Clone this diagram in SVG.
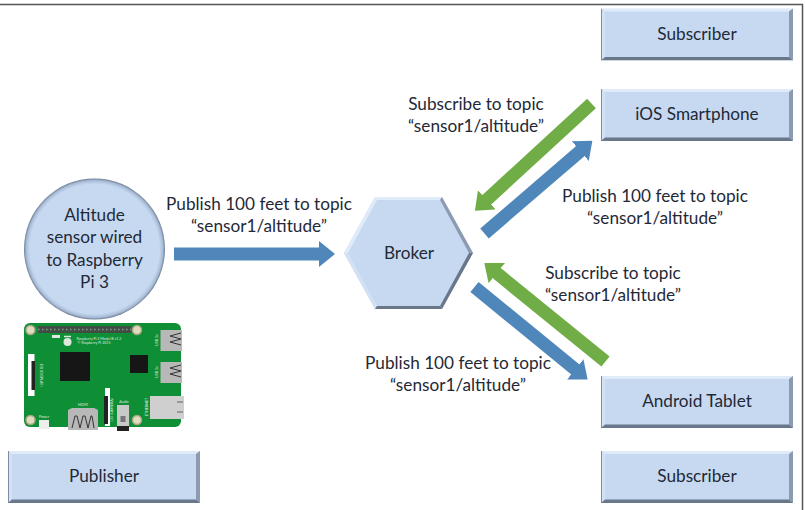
<svg xmlns="http://www.w3.org/2000/svg" width="805" height="510" viewBox="0 0 805 510">
<style>
text{font-family:"Lato","Open Sans","Liberation Sans",sans-serif;font-size:17.2px;fill:#1f2937;text-anchor:middle}
.sh{fill:none;stroke-width:13}
.blue{stroke:#4f87ba}.green{stroke:#70ad47}
.face{fill:#c6d9f1}.lt{fill:#e0ebfa}.lt2{fill:#d3e1f5}.ol{fill:#7f8ea3}.dk{fill:#8d9bb0}.dk2{fill:#69778b}
.pi text{font-size:3.6px;fill:#dfe8df}
.grey{fill:#b8b8b8}.hole{fill:#e0dcc0;stroke:#a8a684;stroke-width:1.500}
</style>
<defs>
<marker id="hb" markerUnits="userSpaceOnUse" markerWidth="16" markerHeight="26" refX="1" refY="13" orient="auto"><polygon points="0,0 16,13 0,26" fill="#4f87ba"/></marker>
<marker id="hg" markerUnits="userSpaceOnUse" markerWidth="16" markerHeight="26" refX="1" refY="13" orient="auto"><polygon points="0,0 16,13 0,26" fill="#70ad47"/></marker>
<radialGradient id="ball" cx="50%" cy="50%" r="50%"><stop offset="0.92" stop-color="#c6d9f1"/><stop offset="0.97" stop-color="#a9bcd6"/><stop offset="1" stop-color="#6f7f96"/></radialGradient>
<symbol id="box" width="192" height="52" viewBox="0 0 192 52">
<rect class="face" width="192" height="52"/>
<polygon class="lt" points="0,0 192,0 188,3 4,3"/>
<polygon class="lt2" points="0,0 4,3 4,48.500 0,52"/>
<rect class="ol" width="1" height="52"/>
<polygon class="dk" points="192,0 192,52 188,48.500 188,3"/>
<polygon class="dk2" points="0,52 4,48.500 188,48.500 192,52"/>
</symbol>
</defs>
<rect width="805" height="510" fill="#fff"/>
<path d="M0 4.500H802.500V510" fill="none" stroke="#555" stroke-width="1.500"/>
<g id="connectors">
<path class="sh blue" d="M174 254H320" marker-end="url(#hb)"/>
<path class="sh green" d="M591.500 103.500L486 200.500" marker-end="url(#hg)"/>
<path class="sh blue" d="M484.500 233.500L581 150.500" marker-end="url(#hb)"/>
<path class="sh green" d="M605.500 361.500L496 272.500" marker-end="url(#hg)"/>
<path class="sh blue" d="M474.500 287L576 370" marker-end="url(#hb)"/>
</g>
<g id="labels">
<text x="259" y="210">Publish 100 feet to topic</text><text x="259" y="232">“sensor1/altitude”</text>
<text x="476" y="110">Subscribe to topic</text><text x="476" y="132">“sensor1/altitude”</text>
<text x="655" y="202">Publish 100 feet to topic</text><text x="655" y="224">“sensor1/altitude”</text>
<text x="613" y="279">Subscribe to topic</text><text x="613" y="301">“sensor1/altitude”</text>
<text x="458" y="369">Publish 100 feet to topic</text><text x="458" y="391">“sensor1/altitude”</text>
</g>
<g id="sensor">
<circle cx="94.500" cy="249" r="70.500" fill="url(#ball)"/>
<text x="94.500" y="221">Altitude</text><text x="94.500" y="243">sensor wired</text><text x="94.500" y="266">to Raspberry</text><text x="94.500" y="288">Pi 3</text>
</g>
<g id="broker">
<polygon class="face" points="375,197 442,197 473,253 442,309 375,309 344,253"/>
<polygon class="lt" points="375,197 442,197 440,200 377,200"/>
<polygon class="lt" points="344,253 375,197 377,200 348,253"/>
<polygon class="lt2" points="344,253 348,253 377,306 375,309"/>
<polygon class="dk" points="442,197 473,253 469,253 440,200"/>
<polygon class="dk2" points="473,253 442,309 440,306 469,253"/>
<polygon class="dk2" points="375,309 377,306 440,306 442,309"/>
<text x="409" y="259">Broker</text>
</g>
<g id="subscriber-top"><use href="#box" x="601" y="8.500"/><text x="697" y="40">Subscriber</text></g>
<g id="ios"><use href="#box" x="601" y="89"/><text x="697" y="120">iOS Smartphone</text></g>
<g id="android"><use href="#box" x="601" y="376"/><text x="697" y="407">Android Tablet</text></g>
<g id="subscriber-bottom"><use href="#box" x="601" y="451"/><text x="697" y="482">Subscriber</text></g>
<g id="publisher"><use href="#box" x="8" y="451"/><text x="104" y="482">Publisher</text></g>
<g id="raspberry-pi" class="pi">
<rect x="24" y="323" width="157" height="104" rx="6" fill="#0f8f35"/>
<rect x="38" y="326" width="93" height="7" fill="#3f4d45"/>
<path d="M38 329.500H131" stroke="#8a9a8e" stroke-width="1.500" stroke-dasharray="1.500 2.500"/>
<g class="hole"><circle cx="30.500" cy="330" r="4.500"/><circle cx="137" cy="330" r="4.500"/><circle cx="30.500" cy="420" r="4.500"/><circle cx="137" cy="420" r="4.500"/></g>
<rect x="60" y="352" width="30" height="29" fill="#161616"/>
<rect x="130" y="355" width="18" height="18" fill="#161616"/>
<rect x="28" y="354" width="6.500" height="42" fill="#fff"/><rect x="31.500" y="361" width="3.500" height="29" fill="#222"/>
<rect x="105" y="388" width="5" height="38" fill="#fff"/><rect x="104" y="396" width="4" height="28" fill="#222"/>
<rect x="160.500" y="330" width="21.500" height="21" class="grey"/><rect x="160.500" y="362" width="21.500" height="21" class="grey"/>
<path d="M181 333l-11 3 11 3-11 3 11 3M181 365l-11 3 11 3-11 3 11 3" fill="none" stroke="#333" stroke-width="1"/>
<rect x="150" y="396" width="34" height="23" fill="#cfcfcf"/>
<path d="M177 402h6M177 412h6" stroke="#888" stroke-width="1.500"/>
<polygon class="grey" points="68,410 72,408 94,408 98,410 98,430 68,430"/>
<path d="M72 428l3-12h2l3 12 3-12h2l3 12 3-12h1l2 12" fill="none" stroke="#333" stroke-width="1"/>
<rect x="117" y="405" width="12" height="26" fill="#c9c9c9"/><rect x="120.500" y="416" width="5" height="6" fill="#777"/><rect x="117" y="426" width="12" height="5" fill="#222"/>
<rect x="39" y="420" width="10" height="9" fill="#eee"/>
<circle cx="67.500" cy="342" r="4" fill="#dfe8df"/><path d="M64 336.500h7" stroke="#dfe8df" stroke-width="1.500"/>
<rect x="52" y="335" width="8" height="3" fill="#dfe8df"/>
<text x="99" y="340">Raspberry Pi 3 Model B v1.2</text>
<text x="94" y="344">© Raspberry Pi 2015</text>
<text x="83" y="406">HDMI</text><text x="124" y="402.500">Audio</text><text x="44" y="418">Power</text>
<text transform="translate(158 340) rotate(-90)">USB 2x</text>
<text transform="translate(158 372) rotate(-90)">USB 2x</text>
<text transform="translate(148 407) rotate(-90)">ETHERNET</text>
<text transform="translate(40 375) rotate(90)">DSI (DISPLAY)</text>
<text transform="translate(113 410) rotate(-90)">CSI (CAMERA)</text>
</g>
</svg>
